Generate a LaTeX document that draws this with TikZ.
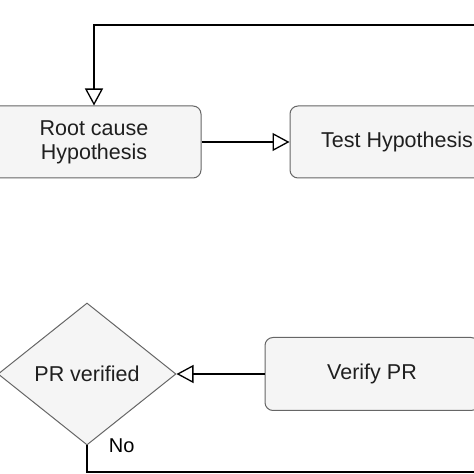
\documentclass[tikz,border=0pt]{standalone}
\usepackage{fontspec}
\setmainfont{Liberation Sans}
\usetikzlibrary{arrows.meta,shapes.geometric}

\definecolor{boxfill}{HTML}{F5F5F5}
\definecolor{boxline}{HTML}{666666}

\tikzstyle{block}=[rectangle,
    rounded corners=8pt,
    line width=1pt,
    minimum height=72pt,
    minimum width=214pt,
    align=center,
    text=black!88,
    font=\fontsize{21.5}{24}\selectfont,
    draw=boxline,
    fill=boxfill]
\tikzstyle{decision}=[diamond,
    line width=1pt,
    minimum height=142pt,
    minimum width=178pt,
    inner sep=0pt,
    text=black!88,
    font=\fontsize{21.5}{24}\selectfont,
    draw=boxline,
    fill=boxfill]
\tikzstyle{flow}=[draw,line width=1.3pt,-{Triangle[open,length=17pt,width=18pt]}]
\tikzstyle{input} = [coordinate]
\tikzstyle{output} = [coordinate]

\begin{document}
\begin{tikzpicture}[x=1pt,y=1pt]
                \useasboundingbox (0,0) rectangle (474,474);
                \node (root) [block] at (94,332) {Root cause\\Hypothesis};
                \node (test) [block] at (397,332) {Test Hypothesis};
                \node (pr) [decision] at (87,100) {PR verified};
                \node (verify) [block,minimum height=73pt] at (372,100) {Verify PR};
                \node (loopin) [input] at (490,449) {};
                \node (noout) [output] at (490,2) {};
                \draw [flow] (loopin) -| (root);
                \draw [flow] (root) -- (test);
                \draw [flow] (verify) -- (pr);
                \draw [line width=1.3pt] (pr.south) |- node[at start,anchor=west,xshift=18pt,
                    font=\fontsize{20}{22}\selectfont] {No} (noout);
            \end{tikzpicture}
\end{document}
